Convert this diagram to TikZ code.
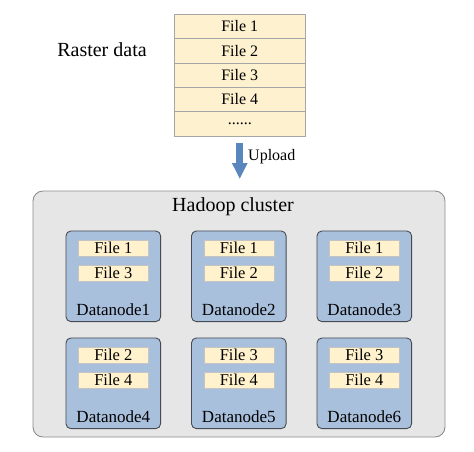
\documentclass[tikz,border=0pt]{standalone}
\usepackage{fontspec}
\setmainfont{Liberation Serif}
\usetikzlibrary{arrows.meta}
\definecolor{cream}{HTML}{FDF1D0}
\definecolor{filecream}{HTML}{FFF2CC}
\definecolor{tableborder}{HTML}{A6A6A6}
\definecolor{clusterfill}{HTML}{E6E6E6}
\definecolor{clusterborder}{HTML}{8C8C8C}
\definecolor{dnfill}{HTML}{A9C0DD}
\definecolor{dnborder}{HTML}{464B53}
\definecolor{fileborder}{HTML}{C4C4C4}
\definecolor{upblue}{HTML}{5A86BE}
\tikzset{
  trow/.style={draw=tableborder, fill=cream, minimum width=130.5pt, minimum height=24.4pt, inner sep=0pt, font=\fontsize{16}{18}\selectfont},
  dnbox/.style={draw=dnborder, fill=dnfill, rounded corners=5pt, minimum width=94.7pt, minimum height=90.7pt, inner sep=0pt, line width=0.9pt},
  fbox/.style={draw=fileborder, fill=filecream, minimum width=70pt, minimum height=16.7pt, inner sep=0pt, font=\fontsize{16.5}{18}\selectfont},
  dnlabel/.style={inner sep=0pt, font=\fontsize{17}{19}\selectfont},
}
\begin{document}
\begin{tikzpicture}[x=1pt,y=-1pt]
\useasboundingbox (0,0) rectangle (474,451);
% table
\node[trow] (r1) at (239.75,26.2) {File 1};
\node[trow] (r2) at (239.75,50.6) {File 2};
\node[trow] (r3) at (239.75,75.0) {File 3};
\node[trow] (r4) at (239.75,99.4) {File 4};
\node[trow] (r5) at (239.75,123.8) {......};
\node[inner sep=0pt, font=\fontsize{20}{22}\selectfont] (raster) at (102,50) {Raster data};
% arrow
\coordinate (upA) at (239.75,143);
\coordinate (upB) at (239.75,179);
\draw[upblue, line width=7pt, -{Triangle[width=14.5pt,length=16pt]}] (upA) -- (upB);
\node[anchor=west, inner sep=0pt, font=\fontsize{16}{18}\selectfont] (upload) at (248,157) {Upload};
% cluster
\node[draw=clusterborder, fill=clusterfill, rounded corners=10pt, minimum width=412pt, minimum height=246pt, line width=0.9pt] (cluster) at (239,314) {};
\node[inner sep=0pt, font=\fontsize{20}{22}\selectfont] (hadoop) at (233,207) {Hadoop cluster};
% datanodes row 1
\node[dnbox] (d1) at (113.3,276.3) {};
\node[dnbox] (d2) at (238.8,276.3) {};
\node[dnbox] (d3) at (364.3,276.3) {};
\node[dnbox] (d4) at (113.3,383.3) {};
\node[dnbox] (d5) at (238.8,383.3) {};
\node[dnbox] (d6) at (364.3,383.3) {};
% files
\node[fbox] (d1a) at (113.3,248.3) {File 1};
\node[fbox] (d1b) at (113.3,273.3) {File 3};
\node[fbox] (d2a) at (238.8,248.3) {File 1};
\node[fbox] (d2b) at (238.8,273.3) {File 2};
\node[fbox] (d3a) at (364.3,248.3) {File 1};
\node[fbox] (d3b) at (364.3,273.3) {File 2};
\node[fbox] (d4a) at (113.3,355.3) {File 2};
\node[fbox] (d4b) at (113.3,380.3) {File 4};
\node[fbox] (d5a) at (238.8,355.3) {File 3};
\node[fbox] (d5b) at (238.8,380.3) {File 4};
\node[fbox] (d6a) at (364.3,355.3) {File 3};
\node[fbox] (d6b) at (364.3,380.3) {File 4};
% labels
\node[dnlabel] (l1) at (113.3,310) {Datanode1};
\node[dnlabel] (l2) at (238.8,310) {Datanode2};
\node[dnlabel] (l3) at (364.3,310) {Datanode3};
\node[dnlabel] (l4) at (113.3,416.7) {Datanode4};
\node[dnlabel] (l5) at (238.8,416.7) {Datanode5};
\node[dnlabel] (l6) at (364.3,416.7) {Datanode6};
\end{tikzpicture}
\end{document}
